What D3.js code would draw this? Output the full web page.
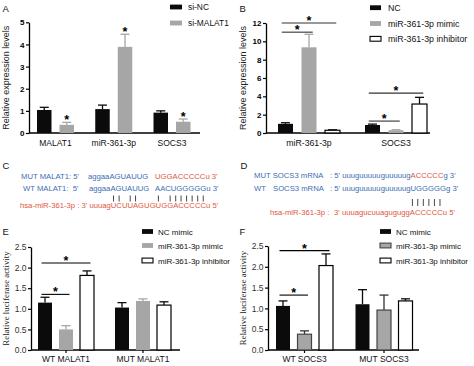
<!DOCTYPE html>
<html><head><meta charset="utf-8">
<script src="https://cdn.jsdelivr.net/npm/d3@7"></script>
<style>body{margin:0;background:#fff}svg{display:block}text{white-space:pre}</style>
</head><body>
<svg id="fig" width="474" height="366"></svg>
<script>
// ---------------- data ----------------
const aGroups = ["MALAT1", "miR-361-3p", "SOCS3"];
const aSeries = ["si-NC", "si-MALAT1"];
const aValues = [[1.04, 0.37], [1.08, 3.89], [0.92, 0.51]];
const aErrors = [[0.12, 0.11], [0.18, 0.57], [0.08, 0.12]];
const aStars = [[0, 1], [0, 1], [0, 1]];
const aTicks = [0, 1, 2, 3, 4, 5];

const bGroups = ["miR-361-3p", "SOCS3"];
const bSeries = ["NC", "miR-361-3p mimic", "miR-361-3p inhibitor"];
const bValues = [[1.0, 9.35, 0.3], [0.87, 0.3, 3.16]];
const bErrors = [[0.12, 1.42, 0.05], [0.1, 0.06, 0.73]];
const bBrackets = [[0, 0, 2, 12.0], [0, 0, 1, 11.0], [1, 0, 2, 4.35], [1, 0, 1, 1.3]];
const bTicks = [0, 2, 4, 6, 8, 10, 12];

const eGroups = ["WT MALAT1", "MUT MALAT1"];
const eSeries = ["NC mimic", "miR-361-3p mimic", "miR-361-3p inhibitor"];
const eValues = [[1.15, 0.50, 1.81], [1.03, 1.19, 1.09]];
const eErrors = [[0.13, 0.09, 0.11], [0.12, 0.05, 0.08]];
const eBrackets = [[0, 0, 2, 2.11], [0, 0, 1, 1.35]];
const eTicks = [0, 0.5, 1.0, 1.5, 2.0, 2.5];

const fGroups = ["WT SOCS3", "MUT SOCS3"];
const fSeries = ["NC mimic", "miR-361-3p mimic", "miR-361-3p inhibitor"];
const fValues = [[1.06, 0.38, 2.03], [1.10, 0.96, 1.18]];
const fErrors = [[0.12, 0.08, 0.28], [0.35, 0.36, 0.05]];
const fBrackets = [[0, 0, 2, 2.39], [0, 0, 1, 1.32]];
const fTicks = [0, 0.5, 1.0, 1.5, 2.0, 2.5];

// sequence texts
const cMut = ["MUT MALAT1: 5'", "aggaaAGUAUUG", "UGGACCCCCu 3'"];
const cWt = ["WT MALAT1:  5'", "aggaaAGUAUUG", "AACUGGGGGu 3'"];
const cMir = "hsa-miR-361-3p : 3' uuuagUCUUAGUGUGGACCCCCu 5'";
const cPairs = [25, 26, 28, 29, 33, 35, 36, 37, 38, 39, 40, 41];
const dMut = ["MUT SOCS3 mRNA", ": 5' uuuguuuuuguuuuug", "ACCCCC", "g 3'"];
const dWt = ["WT", "SOCS3 mRNA", ": 5' uuuguuuuuguuuuugUGGGGGg 3'"];
const dMir = ["hsa-miR-361-3p :", "3' uuuagucuuaguguggACCCCCu 5'"];
const dPairs = [35, 36, 37, 38, 39, 40];

// ---------------- drawing ----------------
const SANS = "'Liberation Sans', Arial, sans-serif";
const SERIF = "'Liberation Serif', 'Times New Roman', serif";
const BLUE = "#3d6db4", RED = "#e0563f";
const BLACK = "#0b0b0b", GRAY = "#a6a6a6";
const svg = d3.select("#fig");

function letter(t, x, y) {
  svg.append("text").attr("x", x).attr("y", y).text(t)
    .attr("font-family", SANS).attr("font-size", 9.5).attr("fill", "#111");
}

function drawPanel(p) {
  const g = svg.append("g");
  const y = d3.scaleLinear().domain(p.yDomain).range([p.y0, p.y1]);
  const xg = d3.scalePoint().domain(p.groups).range([p.c0, p.c1]);
  const xs = d3.scaleBand().domain(p.series).range([-p.gw / 2, p.gw / 2]).paddingInner(p.pad);
  const bw = xs.bandwidth();

  // y axis
  const ya = g.append("g").attr("transform", `translate(${p.ax},0)`)
    .call(d3.axisLeft(y).tickValues(p.ticks).tickSize(3).tickSizeOuter(0).tickPadding(1.5).tickFormat(p.fmt));
  ya.select(".domain").attr("stroke", "#000").attr("stroke-width", 1.3);
  ya.selectAll(".tick line").attr("stroke", "#000").attr("stroke-width", 1.2);
  ya.selectAll(".tick text").attr("font-family", SANS).attr("font-size", p.tickFont)
    .attr("fill", p.tickColor).attr("font-weight", p.tickWeight);

  // x axis line
  g.append("line").attr("x1", p.ax).attr("x2", p.axEnd).attr("y1", y(0)).attr("y2", y(0))
    .attr("stroke", "#000").attr("stroke-width", 1.3);
  p.groups.forEach(gr => {
    if (p.xTicks) g.append("line").attr("x1", xg(gr)).attr("x2", xg(gr))
      .attr("y1", y(0)).attr("y2", y(0) + 3).attr("stroke", "#000").attr("stroke-width", 1.2);
    g.append("text").attr("x", xg(gr)).attr("y", y(0) + p.labelDy).attr("text-anchor", "middle")
      .attr("font-family", SANS).attr("font-size", p.labelFont).attr("fill", "#111").text(gr);
  });

  // bars + errors
  p.groups.forEach((gr, i) => {
    p.series.forEach((s, j) => {
      const v = p.values[i][j], e = p.errors[i][j];
      const x0 = xg(gr) + xs(s), cx = x0 + bw / 2;
      const ec = p.errColors[j];
      g.append("line").attr("x1", cx).attr("x2", cx).attr("y1", y(v)).attr("y2", y(v + e))
        .attr("stroke", ec).attr("stroke-width", 1.3);
      g.append("line").attr("x1", cx - p.cap / 2).attr("x2", cx + p.cap / 2)
        .attr("y1", y(v + e)).attr("y2", y(v + e)).attr("stroke", ec).attr("stroke-width", 1.3);
      const r = g.append("rect").attr("x", x0).attr("y", y(v)).attr("width", bw)
        .attr("height", y(0) - y(v)).attr("fill", p.fills[j]);
      if (p.strokes[j]) r.attr("stroke", p.strokes[j]).attr("stroke-width", 1.2);
      if (p.stars && p.stars[i][j]) {
        g.append("text").attr("x", cx).attr("y", y(v + e) - 5.5 + 7).attr("text-anchor", "middle")
          .attr("font-family", SANS).attr("font-weight", "bold").attr("font-size", 12.5).text("*");
      }
    });
  });

  // significance brackets
  (p.brackets || []).forEach(([gi, a, b, val]) => {
    const gr = p.groups[gi];
    const x1 = xg(gr) + xs(p.series[a]) + bw * 0.25;
    const x2 = xg(gr) + xs(p.series[b]) + bw * 0.75;
    g.append("line").attr("x1", x1).attr("x2", x2).attr("y1", y(val)).attr("y2", y(val))
      .attr("stroke", p.bracketColor).attr("stroke-width", 1.1);
    g.append("text").attr("x", (x1 + x2) / 2).attr("y", y(val) - 5 + 7).attr("text-anchor", "middle")
      .attr("font-family", SANS).attr("font-weight", "bold").attr("font-size", 12.5).text("*");
  });

  // legend
  p.series.forEach((s, j) => {
    const cy = p.legendY[j];
    const r = g.append("rect").attr("x", p.lx).attr("y", cy - 2.4).attr("width", p.lw).attr("height", 4.8)
      .attr("fill", p.fills[j]);
    if (p.strokes[j]) r.attr("stroke", p.strokes[j]).attr("stroke-width", 1.1);
    g.append("text").attr("x", p.ltx).attr("y", cy + 3).attr("font-family", SANS)
      .attr("font-size", p.legendFont).attr("fill", "#111").text(s);
  });

  // y label
  g.append("text").attr("transform", `translate(${p.ylx},${(p.y0 + p.y1) / 2}) rotate(-90)`)
    .attr("text-anchor", "middle").attr("font-family", p.ylFamily).attr("font-size", p.ylFont)
    .attr("fill", "#222").text(p.ylabel);
}

const intFmt = d3.format("d"), decFmt = d3.format(".1f");

drawPanel({
  groups: aGroups, series: aSeries, values: aValues, errors: aErrors, stars: aStars,
  yDomain: [0, 5], y0: 133, y1: 22.3, ticks: aTicks, fmt: intFmt,
  ax: 29, axEnd: 200, c0: 55.5, c1: 172, gw: 37, pad: 0.356, cap: 9,
  fills: [BLACK, GRAY], strokes: [null, null], errColors: [BLACK, GRAY],
  tickFont: 8, tickColor: "#000", tickWeight: "bold", labelFont: 8.5, labelDy: 13,
  lx: 170, lw: 12, ltx: 188, legendY: [7, 23], legendFont: 8.4,
  ylabel: "Relative expression levels", ylx: 9, ylFamily: SANS, ylFont: 9, bracketColor: "#222"
});

drawPanel({
  groups: bGroups, series: bSeries, values: bValues, errors: bErrors, brackets: bBrackets,
  yDomain: [0, 12], y0: 133, y1: 23, ticks: bTicks, fmt: intFmt,
  ax: 266, axEnd: 430, c0: 309, c1: 396, gw: 62, pad: 0.362, cap: 9,
  fills: [BLACK, GRAY, "#fff"], strokes: [null, null, "#000"], errColors: [BLACK, GRAY, BLACK],
  tickFont: 8, tickColor: "#000", tickWeight: "bold", labelFont: 8.7, labelDy: 13,
  lx: 370, lw: 11, ltx: 388, legendY: [7.7, 23.5, 38.8], legendFont: 8.8,
  ylabel: "Relative expression levels", ylx: 246, ylFamily: SANS, ylFont: 9, bracketColor: "#333"
});

drawPanel({
  groups: eGroups, series: eSeries, values: eValues, errors: eErrors, brackets: eBrackets,
  yDomain: [0, 2.5], y0: 350, y1: 247, ticks: eTicks, fmt: decFmt, xTicks: true,
  ax: 31, axEnd: 180, c0: 66, c1: 143, gw: 56, pad: 1 / 3, cap: 9,
  fills: [BLACK, GRAY, "#fff"], strokes: [null, null, "#000"], errColors: [BLACK, GRAY, BLACK],
  tickFont: 8.5, tickColor: "#333", tickWeight: "normal", labelFont: 8.5, labelDy: 12,
  lx: 142, lw: 11, ltx: 158, legendY: [231.5, 245.5, 260.5], legendFont: 8,
  ylabel: "Relative luciferase activity", ylx: 9, ylFamily: SERIF, ylFont: 8.8, bracketColor: "#000"
});

drawPanel({
  groups: fGroups, series: fSeries, values: fValues, errors: fErrors, brackets: fBrackets,
  yDomain: [0, 2.5], y0: 350, y1: 246, ticks: fTicks, fmt: decFmt, xTicks: true,
  ax: 268, axEnd: 419, c0: 304.5, c1: 384, gw: 57, pad: 0.349, cap: 9,
  fills: [BLACK, GRAY, "#fff"], strokes: [null, "#444", "#000"], errColors: [BLACK, "#333", BLACK],
  tickFont: 8.5, tickColor: "#333", tickWeight: "normal", labelFont: 8.5, labelDy: 12,
  lx: 380, lw: 11, ltx: 396, legendY: [231.5, 245.5, 260.5], legendFont: 8,
  ylabel: "Relative luciferase activity", ylx: 246, ylFamily: SERIF, ylFont: 8.8, bracketColor: "#000"
});

// ---------------- sequence panels ----------------
const SEQF = 7.7;
function seqLine(y, parts) {
  const t = svg.append("text").attr("y", y).attr("font-family", SANS).attr("font-size", SEQF);
  parts.forEach(([s, c, x]) => {
    const ts = t.append("tspan").attr("fill", c).text(s);
    if (x != null) ts.attr("x", x);
  });
  return t;
}
function pairBars(textSel, idx, y1, y2) {
  const n = textSel.node();
  idx.forEach(i => {
    const ext = n.getExtentOfChar(i);
    const cx = ext.x + ext.width / 2;
    svg.append("line").attr("x1", cx).attr("x2", cx).attr("y1", y1).attr("y2", y2)
      .attr("stroke", "#333").attr("stroke-width", 0.9);
  });
}

letter("A", 2.5, 12);
letter("B", 239.5, 12);
letter("C", 2.5, 168.5);
letter("D", 240.5, 168.5);
letter("E", 2.5, 235);
letter("F", 239.5, 235);

seqLine(178.5, [[cMut[0], BLUE, 21], [cMut[1], BLUE, 88], [cMut[2], RED, 155]]);
seqLine(191, [[cWt[0], BLUE, 23], [cWt[1], BLUE, 89], [cWt[2], BLUE, 155]]);
const cm = seqLine(208, [[cMir, RED, 20]]);
pairBars(cm, cPairs, 195.5, 201.5);

seqLine(178, [[dMut[0], BLUE, 254], [dMut[1], BLUE, 330], [dMut[2], RED, null], [dMut[3], BLUE, null]]);
seqLine(190.5, [[dWt[0], BLUE, 254], [dWt[1], BLUE, 273], [dWt[2], BLUE, 330]]);
const dm = seqLine(214.5, [[dMir[0], RED, 270], [dMir[1], RED, 334]]);
pairBars(dm, dPairs, 199, 206);
</script>
</body></html>
